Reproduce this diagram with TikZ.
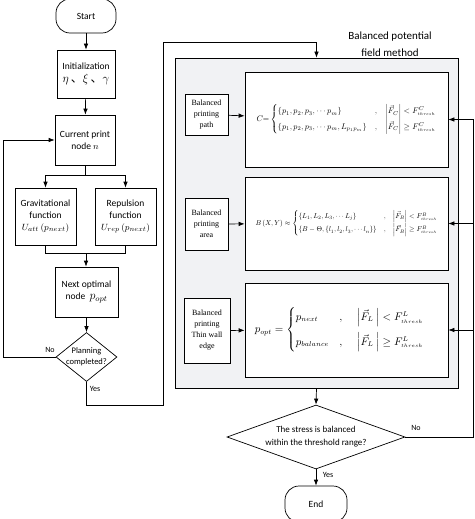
\documentclass[tikz,border=0pt]{standalone}
\usepackage{amsmath, amssymb}
\usepackage{graphicx}
\usepackage{fontspec}
\setmainfont{Carlito}
\newfontfamily\serifb{Liberation Serif}
\newfontfamily\cjk{Noto Sans CJK SC}
\definecolor{PanelGray}{RGB}{241, 242, 244}
\usetikzlibrary{arrows.meta, positioning, shapes.geometric, calc}

\newcommand{\thr}{{\scriptscriptstyle thresh}}

\tikzset{
  arr/.style={-{Latex[length=6pt,width=4.5pt]}},
  flowbox/.style={draw, line width=0.7pt, fill=white, align=center, inner sep=1pt,
    font=\fontsize{9.5}{12}\selectfont},
  termbox/.style={draw, line width=0.7pt, rounded corners=14pt, fill=white,
    font=\fontsize{9.5}{12}\selectfont},
  innerbox/.style={draw, line width=0.7pt, fill=white, align=center, inner sep=1pt,
    font=\serifb\fontsize{8}{11}\selectfont},
  formbox/.style={draw, line width=0.7pt, fill=white, inner sep=0pt},
  choice/.style={draw, line width=0.7pt, diamond, fill=white, inner sep=0pt},
  tag/.style={font=\fontsize{8}{10}\selectfont, inner sep=1pt}
}

\begin{document}
\begin{tikzpicture}[x=1pt, y=-1pt, line width=0.7pt]
        \useasboundingbox (0,0) rectangle (474,519);

        % left flow
        \node[termbox, minimum width=60pt, minimum height=34pt] (start) at (86, 16) {Start};
        \node[flowbox, minimum width=58pt, minimum height=48pt] (init) at (86, 74)
            {Initialization\\[1pt] {\large$\eta$\,{\cjk 、}$\xi$\,{\cjk 、}$\gamma$}};
        \node[flowbox, minimum width=60pt, minimum height=50pt] (cur) at (85, 140)
            {Current print\\ node $n$};
        \node[flowbox, minimum width=61pt, minimum height=57pt] (grav) at (45.5, 216.5)
            {Gravitational\\ function\\ $U_{att}\left(p_{next}\right)$};
        \node[flowbox, minimum width=61pt, minimum height=57pt] (rep) at (125.5, 216.5)
            {Repulsion\\ function\\ $U_{rep}\left(p_{next}\right)$};
        \node[flowbox, minimum width=63pt, minimum height=50pt] (next) at (86.5, 292)
            {Next optimal\\ node \ {\large$p_{opt}$}};
        \node[choice, minimum width=61pt, minimum height=49pt] (plan) at (86.5, 357) {};
        \node[align=center, font=\fontsize{8.5}{11}\selectfont] (plantxt) at (86.5, 357)
            {Planning\\ completed?};
        \node[tag] (planno) at (50, 350) {No};
        \node[tag] (planyes) at (95, 389) {Yes};

        \coordinate (split) at (85, 175);
        \coordinate (merge) at (86, 253);
        \coordinate (yesb) at (163, 405);
        \coordinate (yest) at (163, 42);
        \coordinate (nol) at (3, 357);

        % balanced potential field method panel
        \node[draw, fill=PanelGray, minimum width=283pt, minimum height=330pt] (pfm) at (316.5, 223) {};
        \node[align=center, font=\fontsize{11}{17}\selectfont] (pfmtitle) at (390, 44)
            {Balanced potential\\ field method};

        \node[innerbox, minimum width=43pt, minimum height=41pt] (lpath) at (206.5, 114.5)
            {Balanced\\ printing\\ path};
        \node[formbox, minimum width=203pt, minimum height=95pt] (fpath) at (346.5, 119.5)
            {\resizebox{180pt}{!}{%
            $C{=}\begin{cases}\{p_1,p_2,p_3,\cdots p_m\} & ,\;\;\; \left|\vec{F}_C\right|<F^C_\thr\\[3pt]
            \{p_1,p_2,p_3,\cdots p_m,L_{p_1p_m}\} & ,\;\;\; \left|\vec{F}_C\right|\ge F^C_\thr\end{cases}$}};

        \node[innerbox, minimum width=43pt, minimum height=52pt] (larea) at (206.5, 224)
            {Balanced\\ printing\\ area};
        \node[formbox, minimum width=203pt, minimum height=93pt] (farea) at (346.5, 223.5)
            {\resizebox{182pt}{!}{%
            $B\left(X,Y\right)\approx\begin{cases}\{L_1,L_2,L_3,\cdots L_j\} & ,\;\;\; \left|\vec{F}_B\right|<F^B_\thr\\[3pt]
            \{B-\Theta,\{l_1,l_2,l_3,\cdots l_n\}\} & ,\;\;\; \left|\vec{F}_B\right|\ge F^B_\thr\end{cases}$}};

        \node[innerbox, minimum width=46pt, minimum height=65pt] (lwall) at (207, 330.5)
            {Balanced\\ printing\\ Thin wall\\ edge};
        \node[formbox, minimum width=203pt, minimum height=94pt] (fwall) at (346.5, 330)
            {\fontsize{10.5}{13}\selectfont
            $p_{opt}=\begin{cases}p_{next} & ,\quad\ \left|\vec{F}_L\ \right|<F^L_{\thr}\\[8pt]
            p_{balance} & ,\quad\ \left|\vec{F}_L\ \right|\ge F^L_{\thr}\end{cases}$\hspace*{14pt}};

        % stress check
        \node[choice, minimum width=178pt, minimum height=64pt] (stress) at (316, 437) {};
        \node[align=center, font=\fontsize{9}{13}\selectfont] (stresstxt) at (316, 437)
            {The stress is balanced\\ within the threshold range?};
        \node[tag] (stressno) at (416, 428) {No};
        \node[tag] (stressyes) at (328, 475) {Yes};
        \node[termbox, minimum width=62pt, minimum height=36pt] (end) at (316, 504) {End};
        \coordinate (rb) at (473, 437);

        % connectors
        \draw[arr] (start) -- (init);
        \draw[arr] (init) -- (cur);
        \draw (cur.south) -- (split);
        \draw[arr] (split) -| (grav.north);
        \draw[arr] (split) -| (rep.north);
        \draw (grav.south) |- (merge);
        \draw (rep.south) |- (merge);
        \draw[arr] (merge) -- (merge |- next.north);
        \draw[arr] (next) -- (plan);
        \draw[arr] (plan.west) -- (nol) |- (cur.west);
        \draw[arr] (plan.south) |- (yesb) -- (yest) -| (pfm.north);

        \draw[arr] (lpath) -- (fpath);
        \draw[arr] (larea) -- (farea);
        \draw[arr] (lwall) -- (fwall);

        \draw[arr] (pfm.south) -- (stress.north);
        \draw[arr] (stress.south) -- (end.north);
        \draw[arr] (stress.east) -- (rb) |- (fpath.east);
        \draw[arr] (rb |- farea.east) -- (farea.east);
        \draw[arr] (rb |- fwall.east) -- (fwall.east);
    \end{tikzpicture}
\end{document}
